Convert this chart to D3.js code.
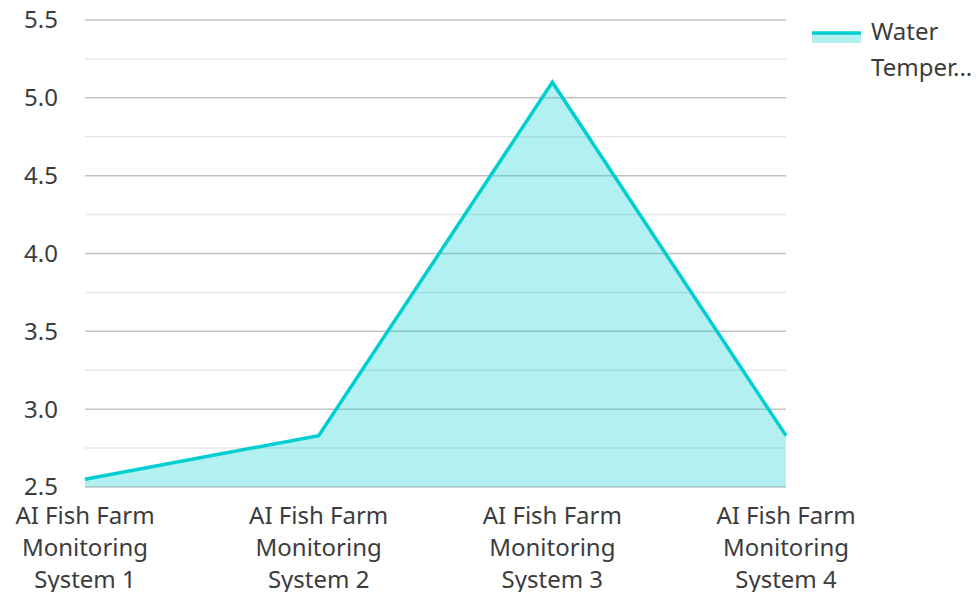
<!DOCTYPE html>
<html>
<head>
<meta charset="utf-8">
<script src="https://cdn.jsdelivr.net/npm/d3@7"></script>
<style>
  body { margin: 0; background: #fff; }
  text { font-family: "Noto Sans", "Open Sans", sans-serif; }
</style>
</head>
<body>
<script>
// chart data
var categories = [
    ['AI Fish Farm', 'Monitoring', 'System 1'],
    ['AI Fish Farm', 'Monitoring', 'System 2'],
    ['AI Fish Farm', 'Monitoring', 'System 3'],
    ['AI Fish Farm', 'Monitoring', 'System 4']
];
var waterTemp = [2.55, 2.83, 5.1, 2.83];
var majorTicks = [2.5, 3.0, 3.5, 4.0, 4.5, 5.0, 5.5];
var minorTicks = [2.75, 3.25, 3.75, 4.25, 4.75, 5.25];
var seriesName = 'Temper...';

var width = 976, height = 592;
var plotLeft = 85, plotRight = 786, plotTop = 20, plotBottom = 487;
var color = '#00CED1';
var fontSize = 24;
var textColor = '#3c3c3c';

var svg = d3.select('body').append('svg')
    .attr('width', width)
    .attr('height', height);

var x = d3.scalePoint()
    .domain(d3.range(categories.length))
    .range([plotLeft, plotRight]);

var y = d3.scaleLinear()
    .domain([2.5, 5.5])
    .range([plotBottom, plotTop]);

// minor grid
svg.append('g').selectAll('line')
    .data(minorTicks)
    .enter().append('line')
        .attr('x1', plotLeft).attr('x2', plotRight)
        .attr('y1', function(d) { return y(d); })
        .attr('y2', function(d) { return y(d); })
        .attr('stroke', '#e6e6e6')
        .attr('stroke-width', 1.5);

// major grid
svg.append('g').selectAll('line')
    .data(majorTicks)
    .enter().append('line')
        .attr('x1', plotLeft).attr('x2', plotRight)
        .attr('y1', function(d) { return y(d); })
        .attr('y2', function(d) { return y(d); })
        .attr('stroke', '#c4c4c4')
        .attr('stroke-width', 1.5);

// y tick labels
svg.append('g').selectAll('text')
    .data(majorTicks)
    .enter().append('text')
        .attr('x', 58)
        .attr('y', function(d) { return y(d); })
        .attr('dy', '0.35em')
        .attr('text-anchor', 'end')
        .attr('font-size', fontSize)
        .attr('fill', textColor)
        .text(function(d) { return d3.format('.1f')(d); });

// area + line
var area = d3.area()
    .x(function(d, i) { return x(i); })
    .y0(y(2.5))
    .y1(function(d) { return y(d); });

var line = d3.line()
    .x(function(d, i) { return x(i); })
    .y(function(d) { return y(d); });

svg.append('path')
    .datum(waterTemp)
    .attr('d', area)
    .attr('fill', color)
    .attr('fill-opacity', 0.3);

svg.append('path')
    .datum(waterTemp)
    .attr('d', line)
    .attr('fill', 'none')
    .attr('stroke', color)
    .attr('stroke-width', 3.5)
    .attr('stroke-linejoin', 'miter');

// x labels
var xl = svg.append('g').selectAll('text')
    .data(categories)
    .enter().append('text')
        .attr('x', function(d, i) { return x(i); })
        .attr('y', 524)
        .attr('text-anchor', 'middle')
        .attr('font-size', fontSize)
        .attr('fill', textColor);
xl.selectAll('tspan')
    .data(function(d) { return d; })
    .enter().append('tspan')
        .attr('x', function() { return this.parentNode.getAttribute('x'); })
        .attr('dy', function(d, i) { return i == 0 ? 0 : 32; })
        .text(function(d) { return d; });

// legend
var lg = svg.append('g');
lg.append('rect')
    .attr('x', 812).attr('y', 33)
    .attr('width', 49).attr('height', 10)
    .attr('fill', color).attr('fill-opacity', 0.3);
lg.append('line')
    .attr('x1', 812).attr('x2', 861)
    .attr('y1', 33).attr('y2', 33)
    .attr('stroke', color).attr('stroke-width', 3.5);
lg.append('text')
    .attr('x', 871).attr('y', 40)
    .attr('font-size', fontSize).attr('fill', textColor)
    .text('Water');
lg.append('text')
    .attr('x', 871).attr('y', 76)
    .attr('font-size', fontSize).attr('fill', textColor)
    .text(seriesName);
</script>
</body>
</html>
